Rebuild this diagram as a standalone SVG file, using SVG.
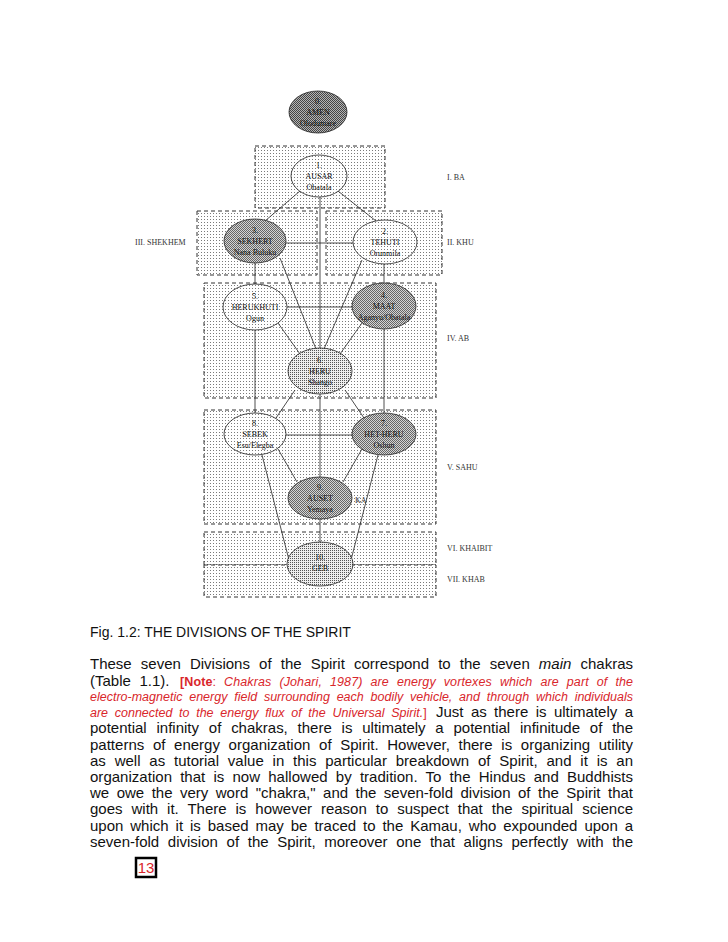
<svg xmlns="http://www.w3.org/2000/svg" width="728" height="942" viewBox="0 0 728 942">
<defs>
<pattern id="dots" width="3" height="3" patternUnits="userSpaceOnUse"><rect width="3" height="3" fill="#fff"/><rect width="1" height="1" fill="#7a7a7a"/></pattern>
<pattern id="mid" width="2" height="2" patternUnits="userSpaceOnUse"><rect width="2" height="2" fill="#eee"/><rect width="1" height="1" fill="#555"/></pattern>
<pattern id="dark" width="2" height="2" patternUnits="userSpaceOnUse"><rect width="2" height="2" fill="#d4d4d4"/><rect width="1" height="1" fill="#666"/><rect x="1" y="1" width="1" height="1" fill="#666"/></pattern>
<pattern id="darkest" width="2" height="2" patternUnits="userSpaceOnUse"><rect width="2" height="2" fill="#b4b4b4"/><rect width="1" height="1" fill="#444"/><rect x="1" y="1" width="1" height="1" fill="#444"/></pattern>
</defs>
<style>
.box{fill:url(#dots);stroke:#333;stroke-width:1;stroke-dasharray:4 3}
.lbl{font-family:"Liberation Serif",serif;font-size:8px;fill:#333}
.nt{font-family:"Liberation Serif",serif;font-size:8px;fill:#111;text-anchor:middle}
.nd{stroke:#222;stroke-width:0.8}
.ln{stroke:#222;stroke-width:0.8;fill:none}
.body{font-family:"Liberation Sans",Arial,sans-serif;font-size:15px;fill:#111}
.red{font-family:"Liberation Sans",Arial,sans-serif;font-size:12.5px;fill:#d9262b;font-style:italic}
.cap{font-family:"Liberation Sans",Arial,sans-serif;font-size:14px;fill:#111}
</style>
<rect width="728" height="942" fill="#fff"/>
<g id="divisions">
<rect class="box" x="255" y="146" width="130" height="62"/>
<rect class="box" x="197" y="211" width="120" height="64"/>
<rect class="box" x="326" y="211" width="116" height="64"/>
<rect class="box" x="204" y="283" width="232" height="115"/>
<rect class="box" x="204" y="410" width="232" height="114"/>
<rect class="box" x="204" y="532" width="232" height="33"/>
<rect class="box" x="204" y="565" width="232" height="32"/>
<text class="lbl" x="447" y="180">I. BA</text>
<text class="lbl" x="447" y="245">II. KHU</text>
<text class="lbl" x="135" y="245">III. SHEKHEM</text>
<text class="lbl" x="447" y="341">IV. AB</text>
<text class="lbl" x="447" y="470">V. SAHU</text>
<text class="lbl" x="447" y="551">VI. KHAIBIT</text>
<text class="lbl" x="447" y="582">VII. KHAB</text>
</g>
<g id="connectors">
<line class="ln" x1="300" y1="191" x2="265" y2="221"/>
<line class="ln" x1="338" y1="191" x2="376" y2="221"/>
<line class="ln" x1="320" y1="196" x2="320" y2="349"/>
<line class="ln" x1="286" y1="243" x2="353" y2="243"/>
<line class="ln" x1="255" y1="263" x2="255" y2="284"/>
<line class="ln" x1="384" y1="264" x2="384" y2="283"/>
<line class="ln" x1="280" y1="258" x2="316" y2="349"/>
<line class="ln" x1="362" y1="260" x2="324" y2="349"/>
<line class="ln" x1="287" y1="307" x2="352" y2="307"/>
<line class="ln" x1="278" y1="323" x2="300" y2="354"/>
<line class="ln" x1="362" y1="323" x2="340" y2="354"/>
<line class="ln" x1="255" y1="330" x2="255" y2="413"/>
<line class="ln" x1="384" y1="329" x2="384" y2="413"/>
<line class="ln" x1="295" y1="390" x2="276" y2="418"/>
<line class="ln" x1="345" y1="390" x2="364" y2="418"/>
<line class="ln" x1="320" y1="394" x2="320" y2="477"/>
<line class="ln" x1="286" y1="435" x2="352" y2="435"/>
<line class="ln" x1="278" y1="449" x2="297" y2="482"/>
<line class="ln" x1="362" y1="449" x2="343" y2="482"/>
<line class="ln" x1="262" y1="455" x2="289" y2="560"/>
<line class="ln" x1="378" y1="455" x2="351" y2="560"/>
<line class="ln" x1="320" y1="519" x2="320" y2="542"/>
</g>
<g id="n0"><ellipse class="nd" cx="318" cy="112" rx="29" ry="21" fill="url(#darkest)"/><text class="nt" x="318" y="104">0.</text><text class="nt" x="318" y="115">AMEN</text><text class="nt" x="318" y="126">Olodumare</text></g>
<g id="n1"><ellipse class="nd" cx="319" cy="176" rx="28" ry="21" fill="url(#dots)"/><text class="nt" x="319" y="168">1.</text><text class="nt" x="319" y="179">AUSAR</text><text class="nt" x="319" y="190">Obatala</text></g>
<g id="n2"><ellipse class="nd" cx="385" cy="242" rx="32" ry="22" fill="url(#dots)"/><text class="nt" x="385" y="234">2.</text><text class="nt" x="385" y="245">TEHUTI</text><text class="nt" x="385" y="256">Orunmila</text></g>
<g id="n3"><ellipse class="nd" cx="255" cy="241" rx="31" ry="22" fill="url(#dark)"/><text class="nt" x="255" y="233">3.</text><text class="nt" x="255" y="244">SEKHERT</text><text class="nt" x="255" y="255">Nana Buluku</text></g>
<g id="n4"><ellipse class="nd" cx="384" cy="306" rx="32" ry="23" fill="url(#dark)"/><text class="nt" x="384" y="298">4.</text><text class="nt" x="384" y="309">MAAT</text><text class="nt" x="384" y="320">Aganyu/Obatala</text></g>
<g id="n5"><ellipse class="nd" cx="255" cy="307" rx="32" ry="23" fill="url(#dots)"/><text class="nt" x="255" y="299">5.</text><text class="nt" x="255" y="310">HERUKHUTI</text><text class="nt" x="255" y="321">Ogun</text></g>
<g id="n6"><ellipse class="nd" cx="320" cy="371" rx="32" ry="23" fill="url(#mid)"/><text class="nt" x="320" y="363">6.</text><text class="nt" x="320" y="374">HERU</text><text class="nt" x="320" y="385">Shango</text></g>
<g id="n7"><ellipse class="nd" cx="384" cy="434" rx="32" ry="21" fill="url(#dark)"/><text class="nt" x="384" y="426">7.</text><text class="nt" x="384" y="437">HET-HERU</text><text class="nt" x="384" y="448">Oshun</text></g>
<g id="n8"><ellipse class="nd" cx="255" cy="434" rx="31" ry="21" fill="url(#dots)"/><text class="nt" x="255" y="426">8.</text><text class="nt" x="255" y="437">SEBEK</text><text class="nt" x="255" y="448">Esu/Elegba</text></g>
<g id="n9"><ellipse class="nd" cx="320" cy="498" rx="32" ry="21" fill="url(#dark)"/><text class="nt" x="320" y="490">9.</text><text class="nt" x="320" y="501">AUSET</text><text class="nt" x="320" y="512">Yemaya</text><text class="lbl" x="355" y="503">KA</text></g>
<g id="n10"><ellipse class="nd" cx="320" cy="564" rx="33" ry="22" fill="url(#mid)"/><text class="nt" x="320" y="560">10.</text><text class="nt" x="320" y="571">GEB</text></g>
<g id="text">
<text class="cap" x="90" y="637">Fig. 1.2: THE DIVISIONS OF THE SPIRIT</text>
<text class="body" x="90" y="669" word-spacing="4.95" textLength="543" lengthAdjust="spacing">These seven Divisions of the Spirit correspond to the seven <tspan font-style="italic">main</tspan> chakras</text>
<text class="body" x="90" y="686" word-spacing="4.4">(Table 1.1).</text>
<text class="red" x="180" y="686" word-spacing="4.4" textLength="453" lengthAdjust="spacing"><tspan font-weight="bold" font-style="normal">[Note</tspan><tspan font-style="normal">: </tspan>Chakras (Johari, 1987) are energy vortexes which are part of the</text>
<text class="red" x="90" y="701" word-spacing="3.3" textLength="543" lengthAdjust="spacing">electro-magnetic energy field surrounding each bodily vehicle, and through which individuals</text>
<text class="red" x="90" y="717" word-spacing="3.2">are connected to the energy flux of the Universal Spirit.<tspan font-style="normal">]</tspan></text>
<text class="body" x="436" y="717" word-spacing="3.2" textLength="197" lengthAdjust="spacing">Just as there is ultimately a</text>
<text class="body" x="90" y="733" word-spacing="5.63" textLength="543" lengthAdjust="spacing">potential infinity of chakras, there is ultimately a potential infinitude of the</text>
<text class="body" x="90" y="750" word-spacing="4.45" textLength="543" lengthAdjust="spacing">patterns of energy organization of Spirit. However, there is organizing utility</text>
<text class="body" x="90" y="766" word-spacing="4.66" textLength="543" lengthAdjust="spacing">as well as tutorial value in this particular breakdown of Spirit, and it is an</text>
<text class="body" x="90" y="782" word-spacing="3.96" textLength="543" lengthAdjust="spacing">organization that is now hallowed by tradition. To the Hindus and Buddhists</text>
<text class="body" x="90" y="798" word-spacing="3.3" textLength="543" lengthAdjust="spacing">we owe the very word "chakra," and the seven-fold division of the Spirit that</text>
<text class="body" x="90" y="814" word-spacing="4.75" textLength="543" lengthAdjust="spacing">goes with it. There is however reason to suspect that the spiritual science</text>
<text class="body" x="90" y="831" word-spacing="2.75" textLength="543" lengthAdjust="spacing">upon which it is based may be traced to the Kamau, who expounded upon a</text>
<text class="body" x="90" y="847" word-spacing="4.5" textLength="543" lengthAdjust="spacing">seven-fold division of the Spirit, moreover one that aligns perfectly with the</text>
</g>
<g id="page">
<rect x="136" y="858" width="20" height="19" fill="#fff" stroke="#000" stroke-width="2.5"/>
<text x="146" y="873" font-family="Liberation Sans,Arial,sans-serif" font-size="15" fill="#d9262b" text-anchor="middle">13</text>
</g>
</svg>
